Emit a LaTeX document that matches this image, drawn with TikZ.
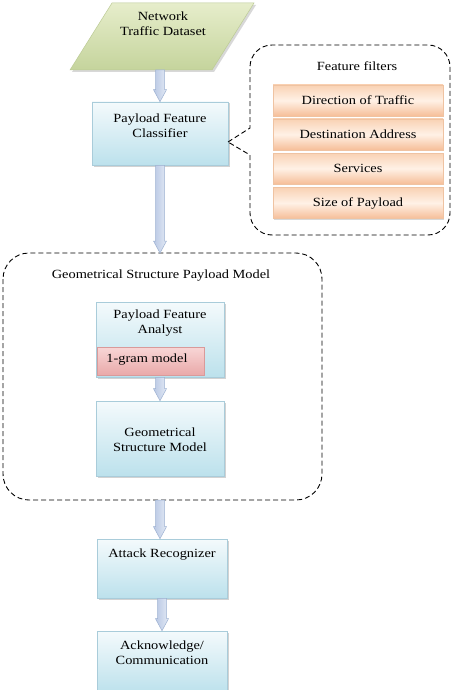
\documentclass[tikz,border=0pt]{standalone}
\usepackage{fontspec}
\setmainfont{Liberation Serif}[FakeStretch=1.15]
\usetikzlibrary{calc,shadows}
\definecolor{bluetop}{HTML}{F4FAFC}
\definecolor{bluebot}{HTML}{BCE1EC}
\definecolor{blueedge}{HTML}{A9CCDA}
\definecolor{ortop}{HTML}{F9D2B4}
\definecolor{ormid}{HTML}{FFF1E6}
\definecolor{orbot}{HTML}{F6BE98}
\definecolor{oredge}{HTML}{EFC3A2}
\definecolor{pktop}{HTML}{F8D6D6}
\definecolor{pkbot}{HTML}{E9A9A9}
\definecolor{pkedge}{HTML}{D99A9A}
\definecolor{grtop}{HTML}{E6EDCB}
\definecolor{grbot}{HTML}{C5D49C}
\definecolor{gredge}{HTML}{BCCB95}
\definecolor{arleft}{HTML}{B9C8E4}
\definecolor{arright}{HTML}{E2E9F5}
\definecolor{aredge}{HTML}{9EB2D2}
\tikzset{
  txt/.style={font=\fontsize{12.5}{15}\selectfont, align=center, inner sep=0pt},
  bluebox/.style={draw=blueedge, line width=0.6pt, top color=bluetop, bottom color=bluebot,
    drop shadow={shadow xshift=1.5pt, shadow yshift=-1.5pt, opacity=0.35, fill=gray}},
  orbox/.style={draw=oredge, line width=0.5pt, top color=ortop, bottom color=orbot, middle color=ormid,
    drop shadow={shadow xshift=1.2pt, shadow yshift=-1.2pt, opacity=0.3, fill=gray}},
  pkbox/.style={draw=pkedge, line width=0.5pt, top color=pktop, bottom color=pkbot,
    drop shadow={shadow xshift=1.2pt, shadow yshift=-1.2pt, opacity=0.35, fill=gray}},
  grshape/.style={draw=gredge, line width=0.5pt, top color=grtop, bottom color=grbot},
  dashbox/.style={draw=black, dash pattern=on 5pt off 3pt, line width=0.9pt},
  barrowstyle/.style={left color=arleft, right color=arright, draw=aredge, line width=0.5pt},
}
\newcommand\blockarrow[2]{%
  \draw[barrowstyle] let \p1=(#1), \p2=(#2) in
    (\x1-4.5pt,\y1) -- (\x1-4.5pt,\y2+12pt) -- (\x1-6.5pt,\y2+12pt) -- (\x1,\y2)
    -- (\x1+6.5pt,\y2+12pt) -- (\x1+4.5pt,\y2+12pt) -- (\x1+4.5pt,\y1) -- cycle;}
\begin{document}
\begin{tikzpicture}[x=1pt,y=-1pt]
\useasboundingbox (0,0) rectangle (452,690);
\fill[white] (0,0) rectangle (452,690);
% dataset parallelogram
\fill[gray,opacity=0.3] (72,72) -- (114,5) -- (256,5) -- (214,72) -- cycle;
\draw[grshape] (70,70) -- (112,3) -- (254,3) -- (212,70) -- cycle;
\node[txt] (ds) at (163,24) {Network\\Traffic Dataset};
\coordinate (dsb) at (160,70);
% classifier
\node[bluebox, minimum width=136pt, minimum height=63pt, inner sep=0pt] (cls) at (160,133.5) {};
\node[txt] (clst) at (160,126) {Payload Feature\\Classifier};
% feature filters group
\draw[dashbox] (228,142) -- (250,128) [rounded corners=22] -- (250,45) -- (450,45) -- (450,235) -- (250,235) [sharp corners] -- (250,155) -- cycle;
\node[txt] (fft) at (357,66) {Feature filters};
\node[orbox, minimum width=170pt, minimum height=31pt, inner sep=0pt] (f1) at (358,100.5) {};
\node[orbox, minimum width=170pt, minimum height=31pt, inner sep=0pt] (f2) at (358,134.5) {};
\node[orbox, minimum width=170pt, minimum height=31pt, inner sep=0pt] (f3) at (358,168.5) {};
\node[orbox, minimum width=170pt, minimum height=31pt, inner sep=0pt] (f4) at (358,203) {};
\node[txt] at (f1) {Direction of Traffic};
\node[txt] at (f2) {Destination Address};
\node[txt] at (f3) {Services};
\node[txt] at (f4) {Size of Payload};
% GSPM group
\draw[dashbox, rounded corners=26] (3,253) rectangle (322,500);
\coordinate (gtop) at (160,253);
\coordinate (gbot) at (160,500);
\node[txt] (gt) at (161,276) {Geometrical Structure Payload Model};
\node[bluebox, minimum width=128pt, minimum height=75pt, inner sep=0pt] (pfa) at (160,339.5) {};
\node[txt] (pfat) at (160,323.5) {Payload Feature\\Analyst};
\node[pkbox, minimum width=107pt, minimum height=28pt, inner sep=0pt] (ngram) at (150.5,361) {};
\node[txt] at (147,360) {1-gram model};
\node[bluebox, minimum width=128pt, minimum height=75pt, inner sep=0pt] (gsm) at (160,438.5) {};
\node[txt] at (160,439.5) {Geometrical\\Structure Model};
% attack recognizer
\node[bluebox, minimum width=130pt, minimum height=59pt, inner sep=0pt] (ar) at (162,568.5) {};
\node[txt] at (162,555) {Attack Recognizer};
% acknowledge
\node[bluebox, minimum width=130pt, minimum height=62pt, inner sep=0pt] (ack) at (162,662) {};
\node[txt] at (162,652.5) {Acknowledge/\\Communication};
% arrows
\blockarrow{dsb}{cls.north}
\blockarrow{cls.south}{gtop}
\blockarrow{pfa.south}{gsm.north}
\blockarrow{gbot}{ar.north}
\blockarrow{ar.south}{ack.north}
\end{tikzpicture}
\end{document}
